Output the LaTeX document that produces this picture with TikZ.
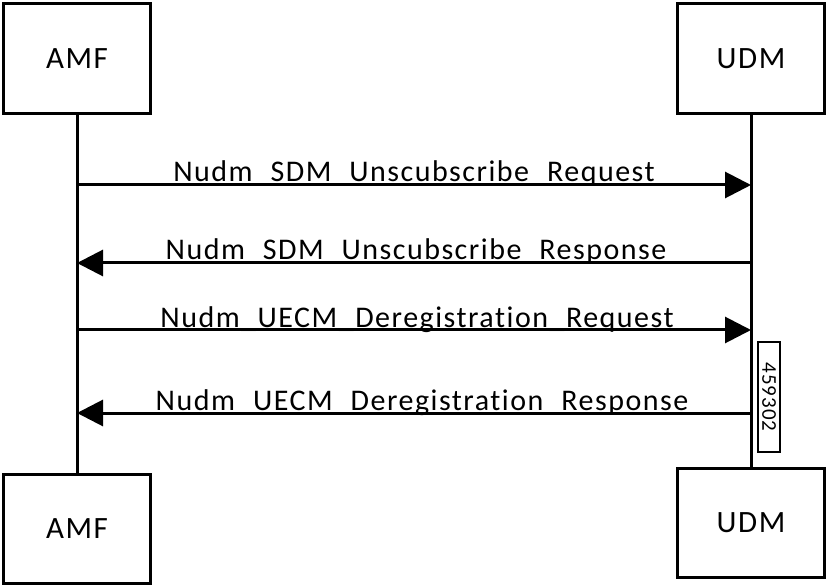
\documentclass[tikz,border=0pt]{standalone}
\usepackage{fontspec}
\setmainfont{Carlito}[LetterSpace=5,Ligatures=NoCommon]
\usetikzlibrary{arrows.meta}
\begin{document}
\begin{tikzpicture}[x=1pt,y=-1pt,
    entity/.style={draw,line width=3pt,minimum width=147pt,minimum height=110pt,inner sep=0pt,font=\fontsize{31}{37}\selectfont},
    msg/.style={line width=3pt,-{Triangle[length=26pt,width=26pt]}},
    lbl/.style={anchor=base,yshift=3pt,inner sep=0pt,font=\fontsize{30}{36}\selectfont}]
  \useasboundingbox (0,0) rectangle (828,588);
  % entities, top and bottom
  \node[entity] (amftop) at (77,58.5) {AMF};
  \node[entity] (udmtop) at (751,58.5) {UDM};
  \node[entity,minimum height=109pt] (amfbot) at (77,529) {AMF};
  \node[entity,minimum height=109pt] (udmbot) at (751,523) {UDM};
  % lifelines
  \draw[line width=3pt] (amftop.south) -- (amfbot.north);
  \draw[line width=3pt] (udmtop.south) -- (udmbot.north);
  % messages
  \foreach \i/\y in {1/185,2/263,3/330,4/413} {
    \coordinate (amf\i) at (77,\y);
    \coordinate (udm\i) at (751,\y);
  }
  \draw[msg] (amf1) -- node[lbl] {Nudm\_SDM\_Unscubscribe\_Request} (udm1);
  \draw[msg] (udm2) -- node[lbl,xshift=2pt] {Nudm\_SDM\_Unscubscribe\_Response} (amf2);
  \draw[msg] (amf3) -- node[lbl,xshift=3pt] {Nudm\_UECM\_Deregistration\_Request} (udm3);
  \draw[msg] (udm4) -- node[lbl,xshift=8pt] {Nudm\_UECM\_Deregistration\_Response} (amf4);
  % figure number
  \node[draw,line width=2pt,rotate=-90,minimum width=110pt,minimum height=22pt,inner sep=0pt,
    font=\fontsize{21}{25}\selectfont] (fignum) at (769,397) {459302};
\end{tikzpicture}
\end{document}
